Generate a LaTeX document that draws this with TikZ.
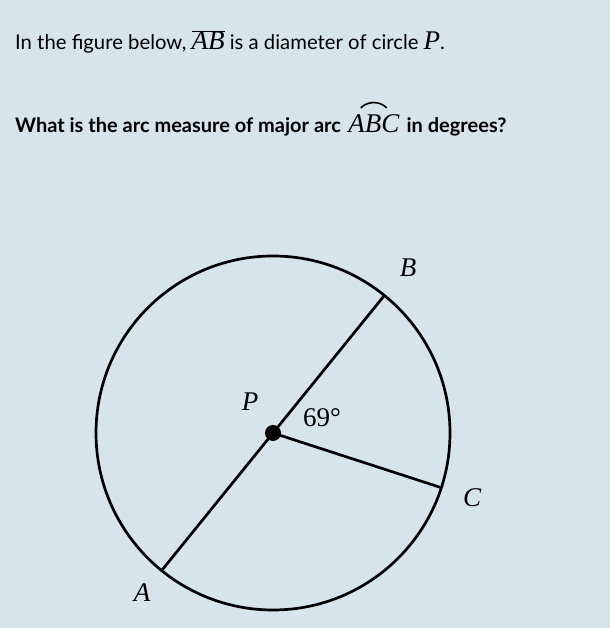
\documentclass[tikz,border=0pt]{standalone}
\usepackage{fontspec}
\setmainfont{Lato}
\newfontfamily\serif{Liberation Serif}
\usetikzlibrary{positioning}
\definecolor{paper}{RGB}{214,229,233}
\newcommand{\mathlet}[1]{{\serif\itshape\fontsize{27}{27}\selectfont #1}}
\begin{document}
\begin{tikzpicture}[x=1pt,y=1pt,
	ink/.style={line width=2.7pt,black},
	lbl/.style={font=\serif\itshape\fontsize{27}{27}\selectfont,inner sep=0pt},
	question/.style={font=\fontsize{20.3}{24}\selectfont,inner sep=0pt,anchor=base west}]
		\fill[paper] (0,0) rectangle (610,628);
		\useasboundingbox (0,0) rectangle (610,628);
		% question text
		\node[question] (line1) at (15,578) {In the figure below, $\overline{\hbox{\mathlet{AB}}}$ is a diameter of circle \mathlet{P}.};
		\node[question,font=\fontsize{20}{24}\selectfont\bfseries] (line2) at (15,495) {What is the arc measure of major arc};
		\node[lbl,anchor=base west] (arcABC) at ([xshift=7pt]line2.base east) {ABC};
		\node[question,font=\fontsize{20}{24}\selectfont\bfseries] (line2end) at ([xshift=7pt]arcABC.base east) {in degrees?};
		\draw[line width=1.6pt] ([xshift=-13pt,yshift=7pt]arcABC.north) to[bend left=45] ([xshift=13pt,yshift=7pt]arcABC.north);
		% circle
		\coordinate (P) at (273,195);
		\coordinate (B) at ([shift={(51:177)}]P);
		\coordinate (A) at ([shift={(231:177)}]P);
		\coordinate (C) at ([shift={(-18:177)}]P);
		\draw[ink] (P) circle[radius=177];
		\draw[ink] (A) -- (B);
		\draw[ink] (P) -- (C);
		\fill (P) circle[radius=8];
		% labels
		\node[lbl] (lblB) at (408,360) {B};
		\node[lbl] (lblC) at (472,130) {C};
		\node[lbl] (lblA) at (142,35) {A};
		\node[lbl] (lblP) at (250,226) {P};
		\node[lbl,font=\serif\fontsize{27}{27}\selectfont] (angle) at (322,210) {69°};
\end{tikzpicture}
\end{document}
